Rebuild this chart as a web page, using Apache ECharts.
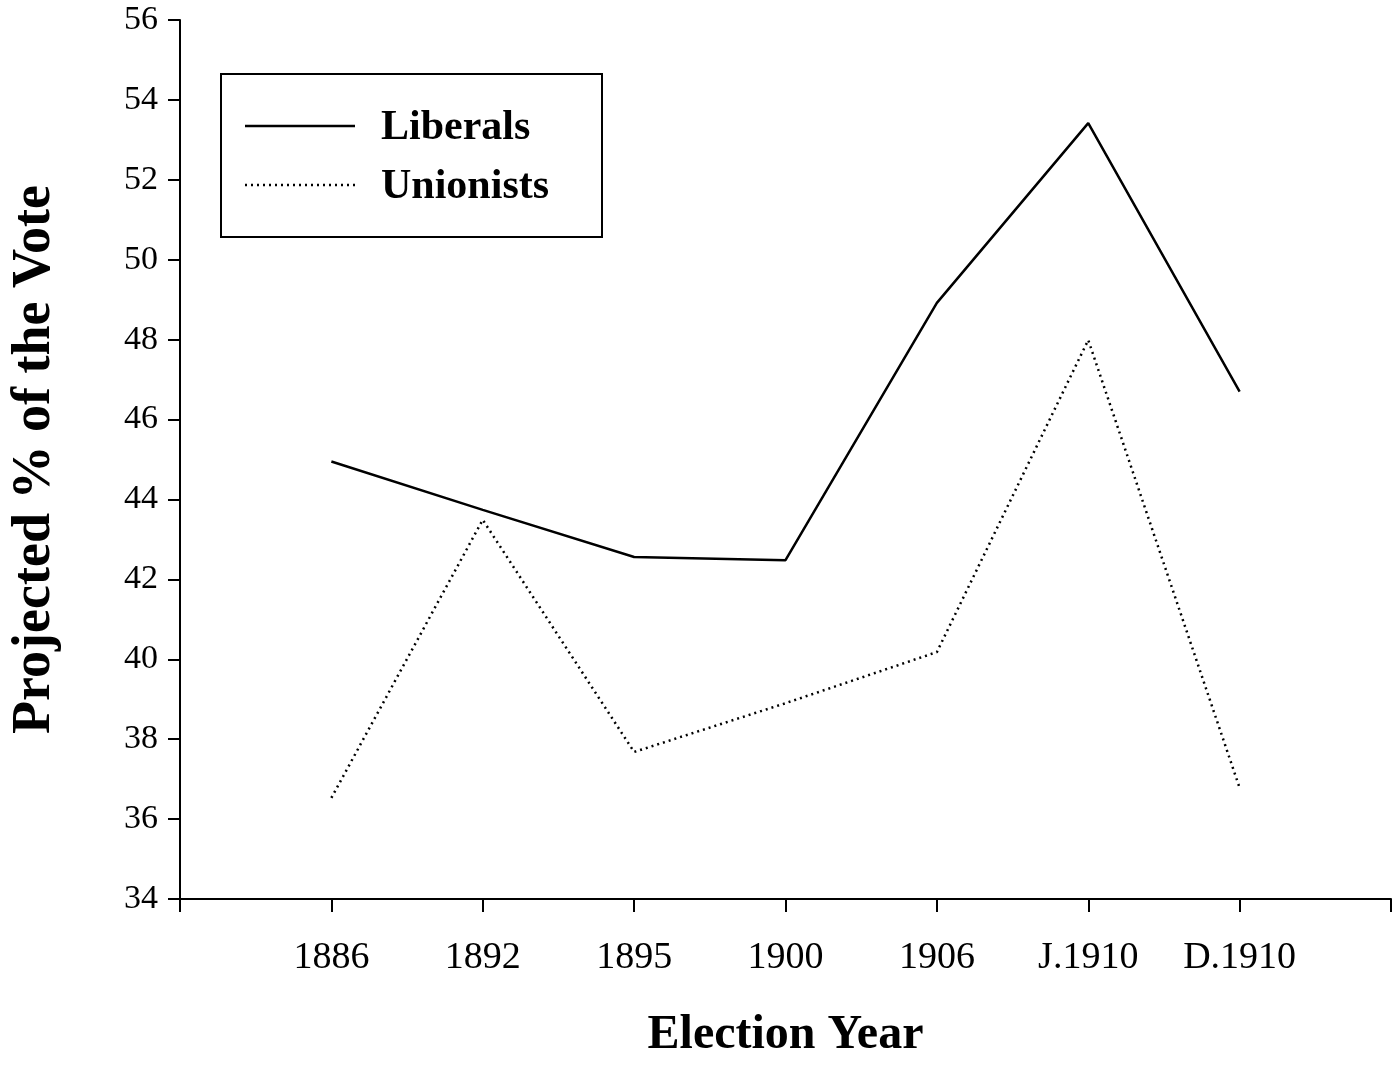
<!DOCTYPE html>
<html><head><meta charset="utf-8">
<script src="https://cdn.jsdelivr.net/npm/echarts@6/dist/echarts.min.js"></script>
<style>html,body{margin:0;padding:0;background:#fff}#c{width:1400px;height:1066px}</style>
</head><body><div id="c"></div>
<script>
const categories = ["1886","1892","1895","1900","1906","J.1910","D.1910"];
const liberals = [44.95, 43.74, 42.56, 42.48, 48.92, 53.42, 46.7];
const unionists = [36.53, 43.49, 37.68, 38.9, 40.18, 47.99, 36.78];
const yTicks = [34,36,38,40,42,44,46,48,50,52,54,56];

const font = "Liberation Serif";
const chart = echarts.init(document.getElementById('c'));
const toPts = arr => arr.map((v,i)=>[i+1, v]);
chart.setOption({
  animation:false,
  grid:{left:172, top:20, right:9, bottom:167},
  xAxis:{type:'value', min:0, max:8, interval:1,
    name:'Election Year', nameLocation:'middle', nameGap:113,
    nameTextStyle:{fontFamily:font, fontWeight:'bold', fontSize:48, color:'#000'},
    axisLine:{show:true, lineStyle:{color:'#000', width:2}},
    axisTick:{show:true, length:13, lineStyle:{color:'#000', width:2}},
    splitLine:{show:false},
    axisLabel:{margin:40, fontFamily:font, fontSize:38, color:'#000',
      formatter:v=> (v>=1 && v<=categories.length) ? categories[v-1] : ''}
  },
  yAxis:{type:'value', min:yTicks[0], max:yTicks[yTicks.length-1], interval:2,
    name:'Projected % of the Vote', nameLocation:'middle', nameGap:118,
    nameTextStyle:{fontFamily:font, fontWeight:'bold', fontSize:54, color:'#000'},
    axisLine:{show:true, lineStyle:{color:'#000', width:2}},
    axisTick:{show:true, length:12, lineStyle:{color:'#000', width:2}},
    splitLine:{show:false},
    axisLabel:{margin:22, fontFamily:font, fontSize:34, color:'#000'}
  },
  legend:{show:false},
  series:[
    {name:'Liberals', type:'line', data:toPts(liberals), symbol:'none',
     lineStyle:{color:'#000', width:2.5, type:'solid'}},
    {name:'Unionists', type:'line', data:toPts(unionists), symbol:'none',
     lineStyle:{color:'#000', width:2.5, type:[2,4]}}
  ],
  graphic:[
    {type:'rect', shape:{x:221,y:74,width:381,height:163}, style:{fill:'#fff', stroke:'#000', lineWidth:2}},
    {type:'line', shape:{x1:245,y1:126,x2:355,y2:126}, style:{stroke:'#000', lineWidth:2.5}},
    {type:'line', shape:{x1:245,y1:185,x2:355,y2:185}, style:{stroke:'#000', lineWidth:2.5, lineDash:[2,4]}},
    {type:'text', x:381, y:128, style:{text:'Liberals', font:'bold 42px "Liberation Serif"', fill:'#000', verticalAlign:'middle'}},
    {type:'text', x:381, y:187, style:{text:'Unionists', font:'bold 42px "Liberation Serif"', fill:'#000', verticalAlign:'middle'}}
  ]
});
</script></body></html>
